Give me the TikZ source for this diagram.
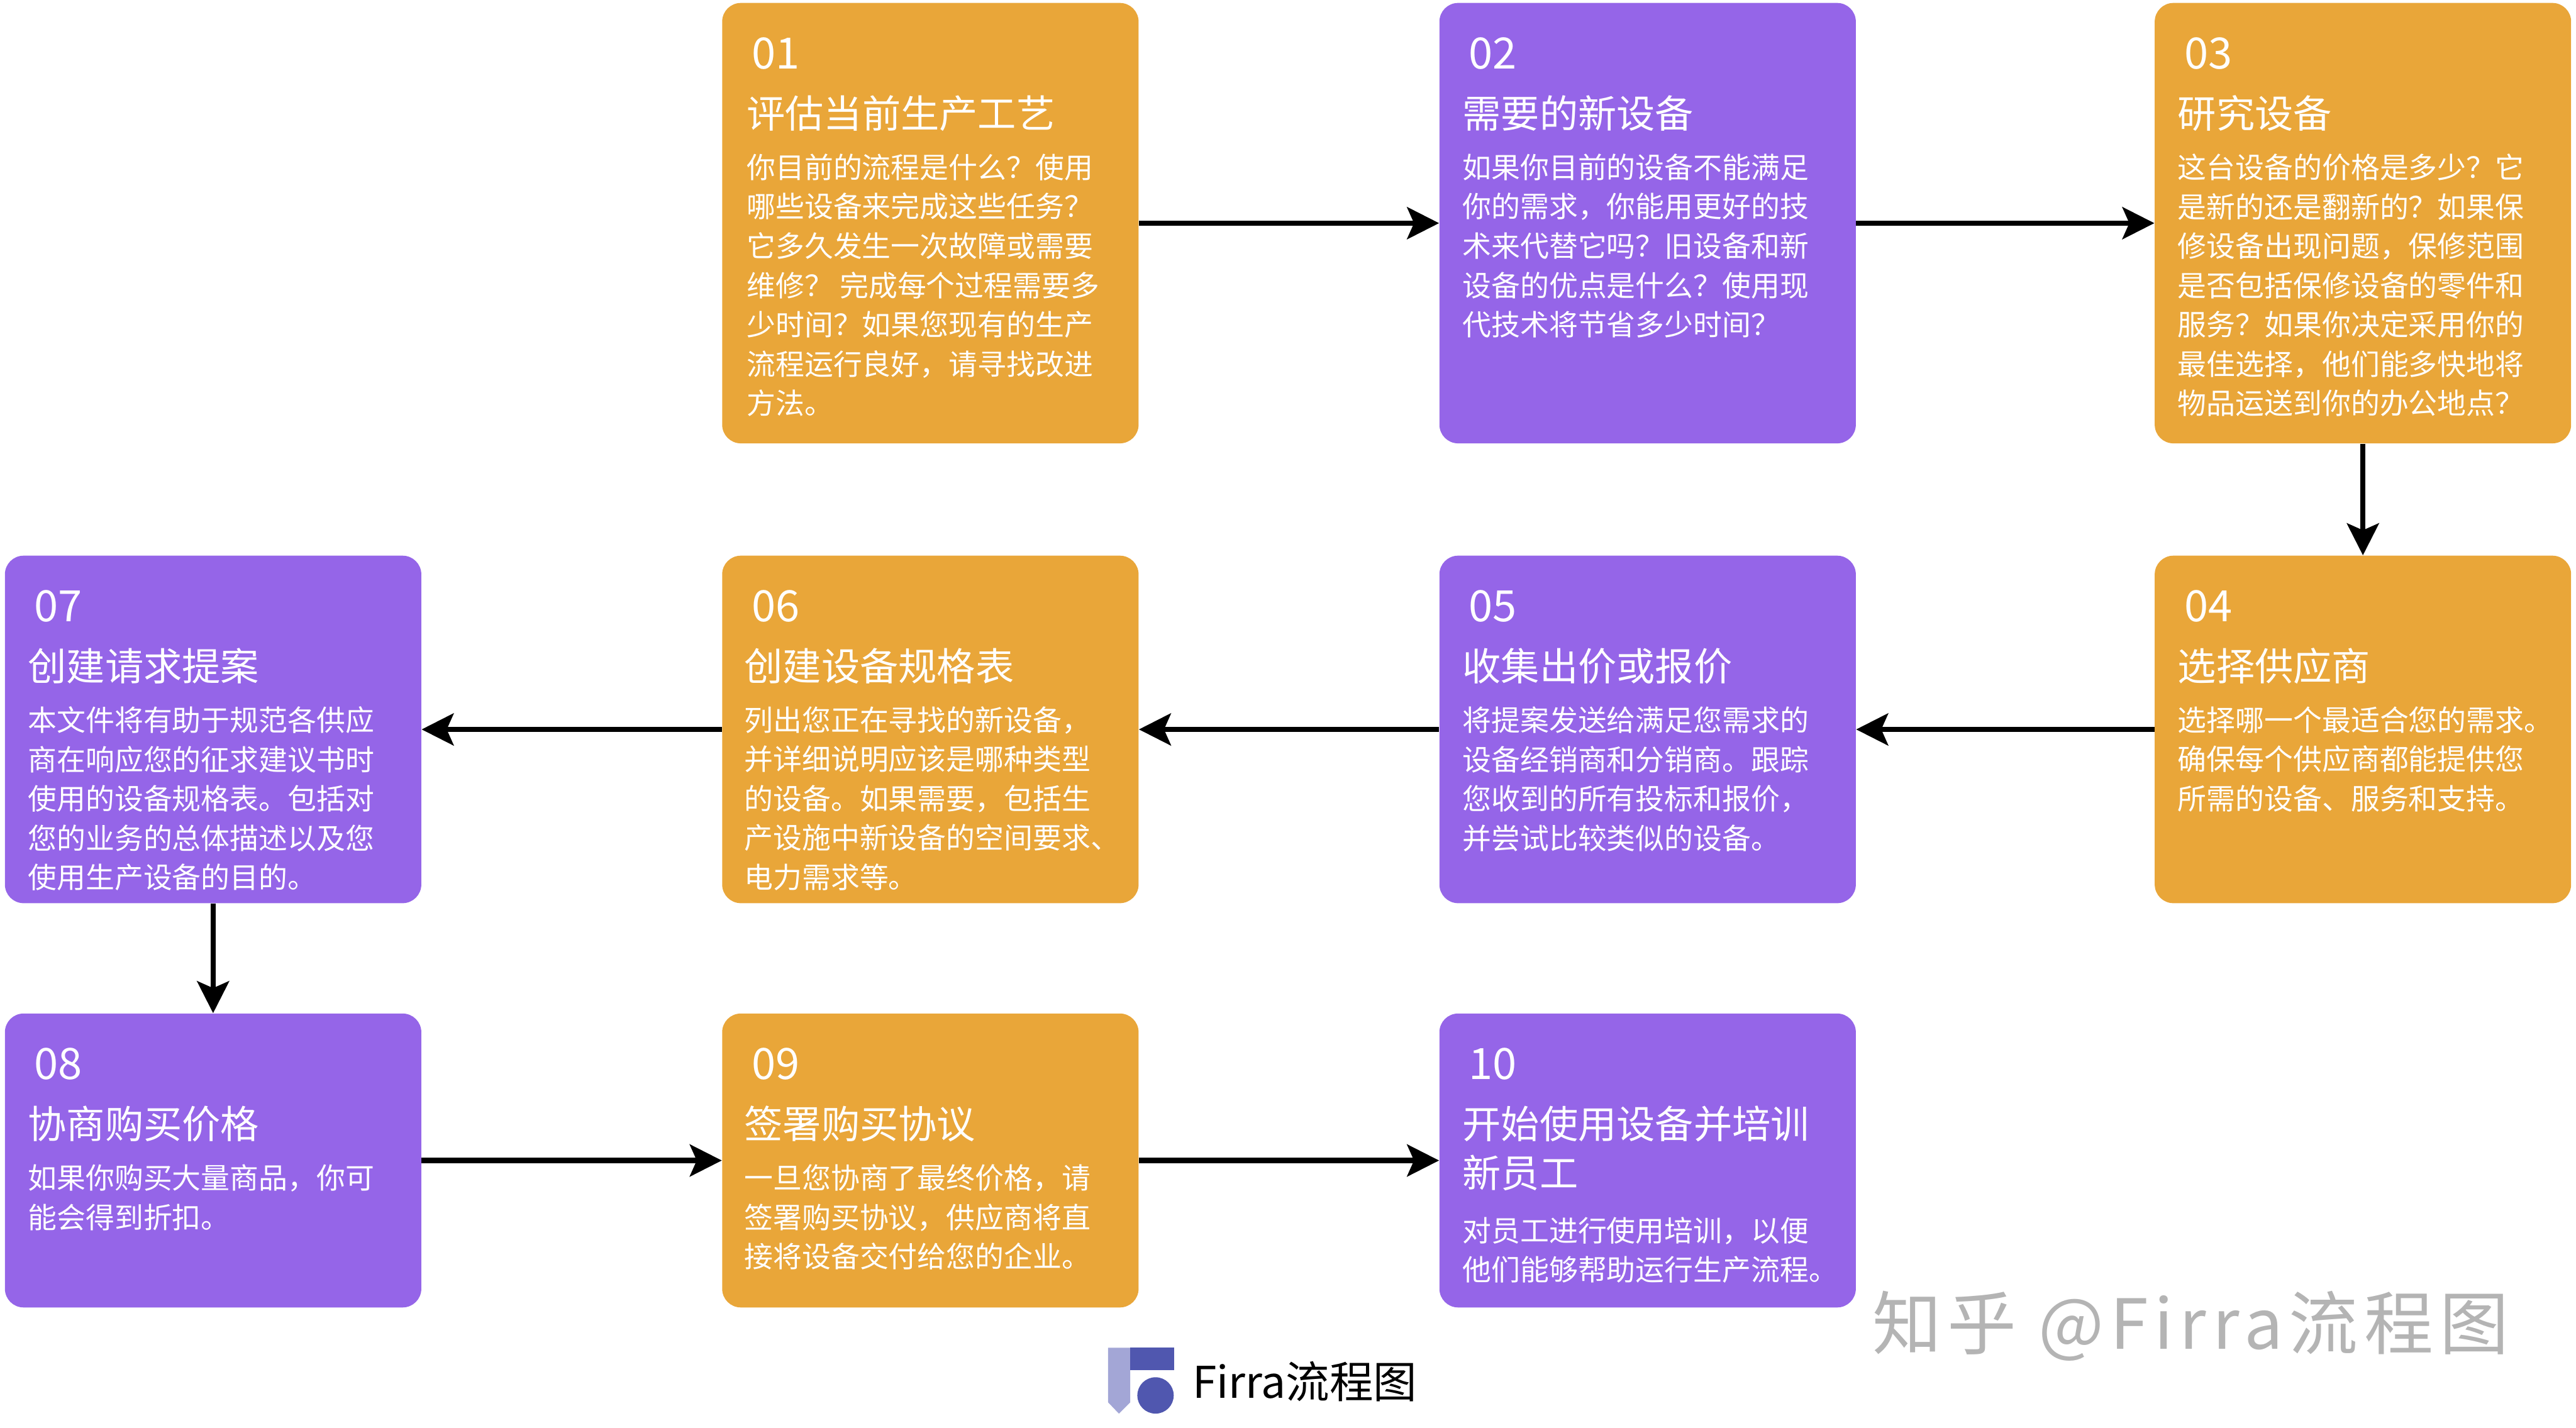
\documentclass[tikz,border=0pt]{standalone}
\usepackage{fontspec}
\setmainfont{Noto Sans CJK SC}
\newfontfamily\markfont[LetterSpace=9]{Noto Sans CJK SC}
\usetikzlibrary{arrows.meta}
\definecolor{boxorange}{HTML}{E9A639}
\definecolor{boxpurple}{HTML}{9565E8}
\definecolor{logodark}{HTML}{5057AF}
\definecolor{logolight}{HTML}{A3A6D6}
\definecolor{markgray}{HTML}{B4B4B4}
\tikzset{
  stepbox/.style={minimum width=8.47cm, rounded corners=0.38cm, inner sep=0pt, text=white},
  orangebox/.style={stepbox, fill=boxorange},
  purplebox/.style={stepbox, fill=boxpurple},
  numtext/.style={text=white, inner sep=0pt, anchor=west, xshift=0.6cm, yshift=-1.03cm,
    font=\fontsize{25pt}{28pt}\selectfont},
  titletext/.style={text=white, inner sep=0pt, anchor=north west, xshift=0.47cm, yshift=-1.88cm, align=left,
    font=\fontsize{22.3pt}{28.4pt}\selectfont},
  bodytext/.style={text=white, inner sep=0pt, anchor=north west, xshift=0.47cm, yshift=-3.07cm, align=left,
    font=\fontsize{16.7pt}{22.76pt}\selectfont},
  flow/.style={-{Stealth[length=0.65cm, width=0.65cm, inset=0.14cm]}, line width=0.105cm, black},
}
\begin{document}
\begin{tikzpicture}[node distance=14.59cm]
    \useasboundingbox (0,0) rectangle (52.4,-29.04);

    % Define Nodes
    \node (1) [orangebox, minimum height=8.96cm] at (18.925,-4.54) {};
    \node (2) [purplebox, minimum height=8.96cm, right of=1] {};
    \node (3) [orangebox, minimum height=8.96cm, right of=2, xshift=-0.04cm] {};
    \node (4) [orangebox, minimum height=7.07cm, below of=3, node distance=10.3cm] {};
    \node (5) [purplebox, minimum height=7.07cm, below of=2, node distance=10.3cm] {};
    \node (6) [orangebox, minimum height=7.07cm, left of=5] {};
    \node (7) [purplebox, minimum height=7.07cm, left of=6] {};
    \node (8) [purplebox, minimum height=5.98cm, below of=7, node distance=8.77cm] {};
    \node (9) [orangebox, minimum height=5.98cm, right of=8] {};
    \node (10) [purplebox, minimum height=5.98cm, right of=9] {};

    % Box Text
    \node (1n) [numtext] at (1.north west) {01};
    \node (1t) [titletext, xshift=0.03cm] at (1.north west) {评估当前生产工艺};
    \node (1b) [bodytext, xshift=0.03cm] at (1.north west) {你目前的流程是什么？使用\\哪些设备来完成这些任务？\\它多久发生一次故障或需要\\维修？ 完成每个过程需要多\\少时间？如果您现有的生产\\流程运行良好，请寻找改进\\方法。};
    \node (2n) [numtext] at (2.north west) {02};
    \node (2t) [titletext] at (2.north west) {需要的新设备};
    \node (2b) [bodytext] at (2.north west) {如果你目前的设备不能满足\\你的需求，你能用更好的技\\术来代替它吗？旧设备和新\\设备的优点是什么？使用现\\代技术将节省多少时间？};
    \node (3n) [numtext] at (3.north west) {03};
    \node (3t) [titletext] at (3.north west) {研究设备};
    \node (3b) [bodytext] at (3.north west) {这台设备的价格是多少？它\\是新的还是翻新的？如果保\\修设备出现问题，保修范围\\是否包括保修设备的零件和\\服务？如果你决定采用你的\\最佳选择，他们能多快地将\\物品运送到你的办公地点？};
    \node (4n) [numtext] at (4.north west) {04};
    \node (4t) [titletext] at (4.north west) {选择供应商};
    \node (4b) [bodytext] at (4.north west) {选择哪一个最适合您的需求。\\确保每个供应商都能提供您\\所需的设备、服务和支持。};
    \node (5n) [numtext] at (5.north west) {05};
    \node (5t) [titletext] at (5.north west) {收集出价或报价};
    \node (5b) [bodytext] at (5.north west) {将提案发送给满足您需求的\\设备经销商和分销商。跟踪\\您收到的所有投标和报价，\\并尝试比较类似的设备。};
    \node (6n) [numtext] at (6.north west) {06};
    \node (6t) [titletext, xshift=-0.02cm] at (6.north west) {创建设备规格表};
    \node (6b) [bodytext, xshift=-0.02cm] at (6.north west) {列出您正在寻找的新设备，\\并详细说明应该是哪种类型\\的设备。如果需要，包括生\\产设施中新设备的空间要求、\\电力需求等。};
    \node (7n) [numtext] at (7.north west) {07};
    \node (7t) [titletext] at (7.north west) {创建请求提案};
    \node (7b) [bodytext] at (7.north west) {本文件将有助于规范各供应\\商在响应您的征求建议书时\\使用的设备规格表。包括对\\您的业务的总体描述以及您\\使用生产设备的目的。};
    \node (8n) [numtext] at (8.north west) {08};
    \node (8t) [titletext] at (8.north west) {协商购买价格};
    \node (8b) [bodytext] at (8.north west) {如果你购买大量商品，你可\\能会得到折扣。};
    \node (9n) [numtext] at (9.north west) {09};
    \node (9t) [titletext, xshift=-0.02cm] at (9.north west) {签署购买协议};
    \node (9b) [bodytext, xshift=-0.02cm] at (9.north west) {一旦您协商了最终价格，请\\签署购买协议，供应商将直\\接将设备交付给您的企业。};
    \node (10n) [numtext] at (10.north west) {10};
    \node (10t) [titletext] at (10.north west) {开始使用设备并培训\\新员工};
    \node (10b) [bodytext, yshift=-1.07cm] at (10.north west) {对员工进行使用培训，以便\\他们能够帮助运行生产流程。};

    % Draw Edges
    \draw[flow] (1) -- (2);
    \draw[flow] (2) -- (3);
    \draw[flow] (3) -- (4);
    \draw[flow] (4) -- (5);
    \draw[flow] (5) -- (6);
    \draw[flow] (6) -- (7);
    \draw[flow] (7) -- (8);
    \draw[flow] (8) -- (9);
    \draw[flow] (9) -- (10);

    % Logo and Marks
    \fill[logolight] (22.54,-27.42) -- (22.99,-27.42) -- (22.99,-28.53) -- (22.76,-28.76) -- (22.54,-28.53) -- cycle;
    \fill[logodark] (22.99,-27.42) rectangle (23.88,-27.87);
    \fill[logodark] (23.505,-28.39) circle (0.37);
    \node (brand) [anchor=west, inner sep=0pt, font=\fontsize{25.3pt}{30pt}\selectfont] at (24.25,-28.11) {Firra流程图};
    \node (mark) [anchor=west, inner sep=0pt, text=markgray, font=\markfont\fontsize{40pt}{46pt}\selectfont] at (38.08,-26.98) {知乎 @Firra流程图};
\end{tikzpicture}
\end{document}
